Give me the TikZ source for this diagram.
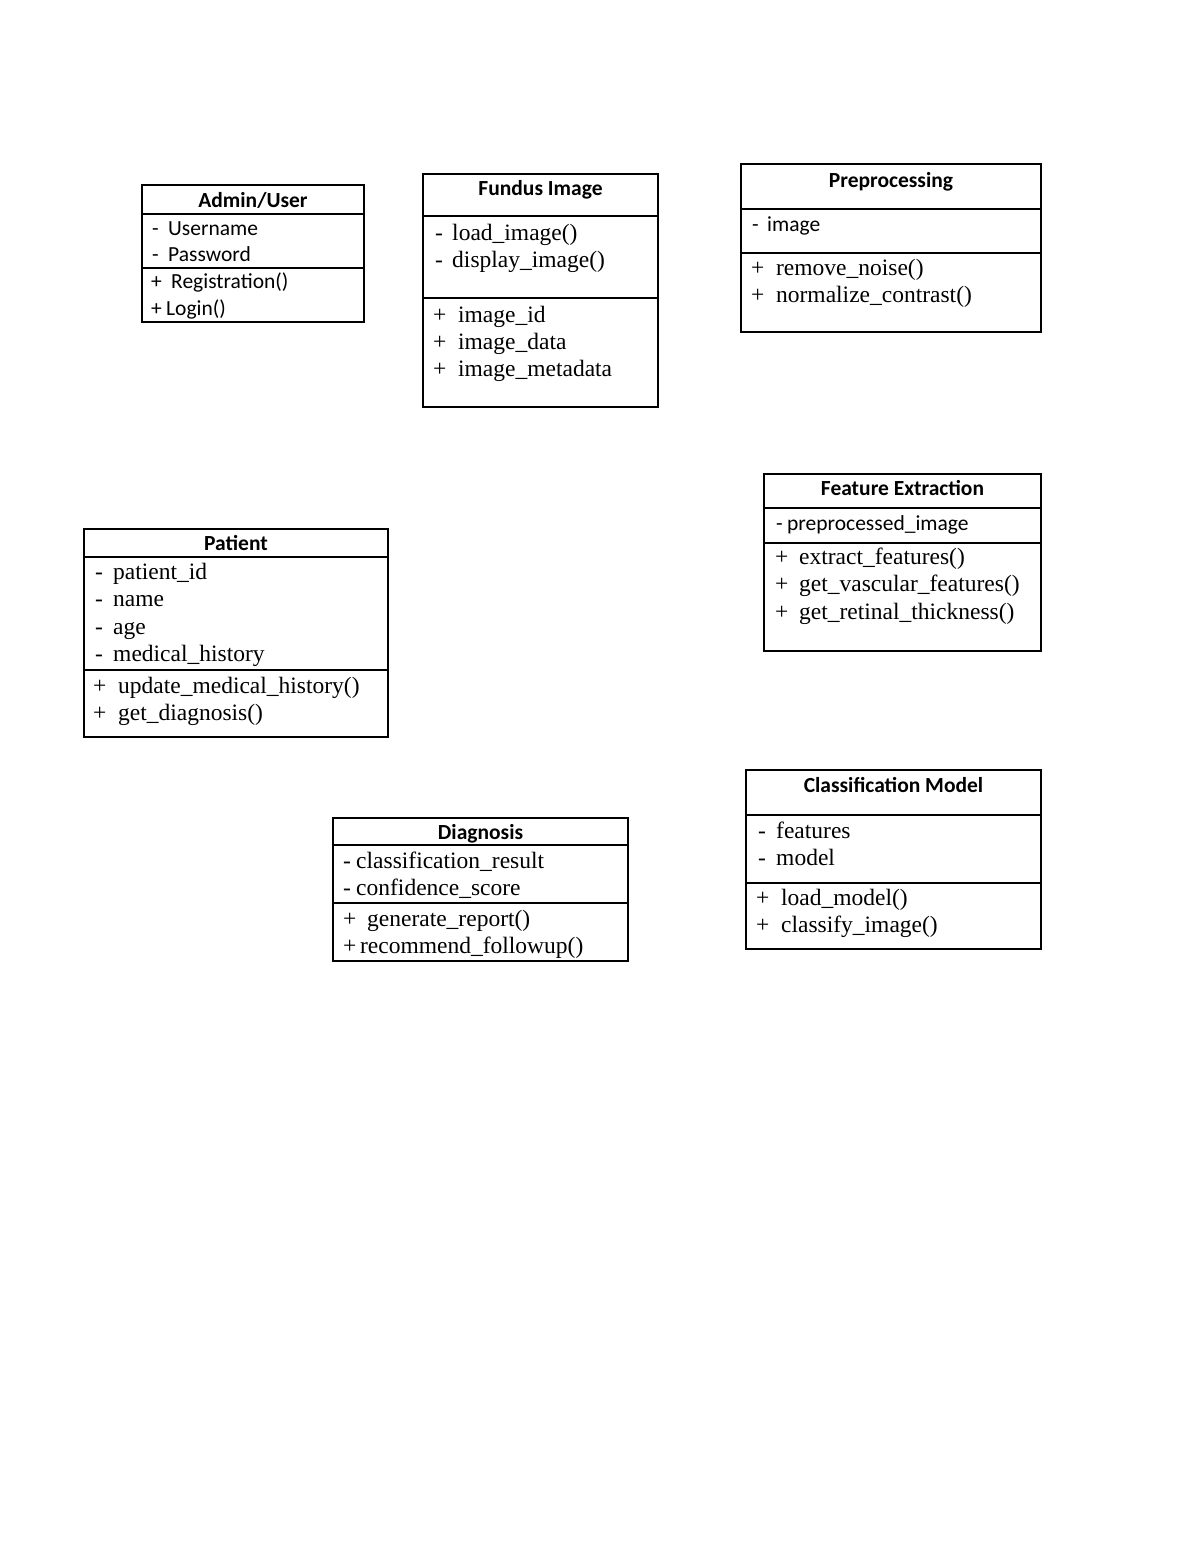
\documentclass[tikz,border=0pt]{standalone}
\usepackage{fontspec}
\setmainfont{Liberation Serif}
\newfontfamily\calfont{Carlito}
\begin{document}
\begin{tikzpicture}[x=1pt,y=-1pt,
  classbox/.style={draw=black, line width=1.5pt, anchor=north west, inner sep=0pt, outer sep=0pt},
  rule/.style={draw=black, line width=1.5pt},
  title/.style={anchor=base, inner sep=0pt, font=\calfont\bfseries\fontsize{21.5}{24}\selectfont},
  citem/.style={anchor=base west, inner sep=0pt, font=\calfont\fontsize{21.5}{24}\selectfont},
  titem/.style={anchor=base west, inner sep=0pt, yshift=-1.2pt, font=\fontsize{23.5}{27}\selectfont}]
\useasboundingbox[fill=white] (0,0) rectangle (1200,1553);

% ---------- Admin/User ----------
\node[classbox, minimum width=222pt, minimum height=137pt] (admin) at (142,185) {};
\draw[rule] (142,214) -- (364,214);
\draw[rule] (142,268) -- (364,268);
\node[title] (admint) at (253,207) {Admin/User};
\node[citem] (admina1) at (152,235) {-\hspace{9.4pt}Username};
\node[citem] (admina2) at (152,261) {-\hspace{9.4pt}Password};
\node[citem] (adminm1) at (151,288) {+\hspace{9.3pt}Registration()};
\node[citem] (adminm2) at (151,315) {+\hspace{4.3pt}Login()};

% ---------- Fundus Image ----------
\node[classbox, minimum width=235pt, minimum height=233pt] (fundus) at (423,174) {};
\draw[rule] (423,216) -- (658,216);
\draw[rule] (423,298) -- (658,298);
\node[title] (fundust) at (540.5,195) {Fundus Image};
\node[titem] (fundusm1) at (435,239) {-\hspace{9.2pt}load\_image()};
\node[titem] (fundusm2) at (435,266) {-\hspace{9.2pt}display\_image()};
\node[titem] (fundusa1) at (433,321) {+\hspace{11.7pt}image\_id};
\node[titem] (fundusa2) at (433,348) {+\hspace{11.7pt}image\_data};
\node[titem] (fundusa3) at (433,375) {+\hspace{11.7pt}image\_metadata};

% ---------- Preprocessing ----------
\node[classbox, minimum width=300pt, minimum height=168pt] (prep) at (741,164) {};
\draw[rule] (741,209) -- (1041,209);
\draw[rule] (741,253) -- (1041,253);
\node[title] (prept) at (891,187) {Preprocessing};
\node[citem] (prepa1) at (752,231) {-\hspace{8.4pt}image};
\node[titem] (prepm1) at (751,274) {+\hspace{11.7pt}remove\_noise()};
\node[titem] (prepm2) at (751,301) {+\hspace{11.7pt}normalize\_contrast()};

% ---------- Feature Extraction ----------
\node[classbox, minimum width=277pt, minimum height=177pt] (feat) at (764,474) {};
\draw[rule] (764,508) -- (1041,508);
\draw[rule] (764,543) -- (1041,543);
\node[title] (featt) at (902.5,495) {Feature Extraction};
\node[citem] (feata1) at (776,530) {-\hspace{4.4pt}preprocessed\_image};
\node[titem] (featm1) at (775,563) {+\hspace{10.7pt}extract\_features()};
\node[titem] (featm2) at (775,590) {+\hspace{10.7pt}get\_vascular\_features()};
\node[titem] (featm3) at (775,618) {+\hspace{10.7pt}get\_retinal\_thickness()};

% ---------- Patient ----------
\node[classbox, minimum width=304pt, minimum height=208pt] (patient) at (84,529) {};
\draw[rule] (84,557) -- (388,557);
\draw[rule] (84,670) -- (388,670);
\node[title] (patientt) at (236,550) {Patient};
\node[titem] (patienta1) at (95,578) {-\hspace{10.2pt}patient\_id};
\node[titem] (patienta2) at (95,605) {-\hspace{10.2pt}name};
\node[titem] (patienta3) at (95,633) {-\hspace{10.2pt}age};
\node[titem] (patienta4) at (95,660) {-\hspace{10.2pt}medical\_history};
\node[titem] (patientm1) at (93,692) {+\hspace{11.7pt}update\_medical\_history()};
\node[titem] (patientm2) at (93,719) {+\hspace{11.7pt}get\_diagnosis()};

% ---------- Diagnosis ----------
\node[classbox, minimum width=295pt, minimum height=143pt] (diag) at (333,818) {};
\draw[rule] (333,845) -- (628,845);
\draw[rule] (333,903) -- (628,903);
\node[title] (diagt) at (480.5,839) {Diagnosis};
\node[titem] (diaga1) at (343,867) {-\hspace{5.2pt}classification\_result};
\node[titem] (diaga2) at (343,894) {-\hspace{5.2pt}confidence\_score};
\node[titem] (diagm1) at (343,925) {+\hspace{10.7pt}generate\_report()};
\node[titem] (diagm2) at (343,952) {+\hspace{3.7pt}recommend\_followup()};

% ---------- Classification Model ----------
\node[classbox, minimum width=295pt, minimum height=179pt] (clf) at (746,770) {};
\draw[rule] (746,815) -- (1041,815);
\draw[rule] (746,883) -- (1041,883);
\node[title] (clft) at (893.5,792) {Classification Model};
\node[titem] (clfa1) at (758,837) {-\hspace{10.2pt}features};
\node[titem] (clfa2) at (758,864) {-\hspace{10.2pt}model};
\node[titem] (clfm1) at (756,904) {+\hspace{11.7pt}load\_model()};
\node[titem] (clfm2) at (756,931) {+\hspace{11.7pt}classify\_image()};
\end{tikzpicture}
\end{document}
